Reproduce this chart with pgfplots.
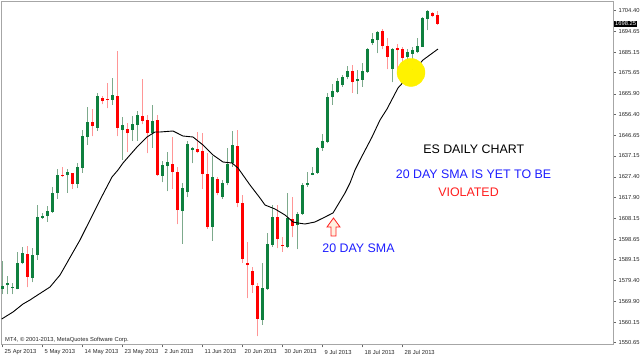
\documentclass[border=0pt]{standalone}
\usepackage{pgfplots}
\pgfplotsset{compat=1.18}
\usepackage{pgfplotstable}
\usepackage{fontspec}
\setmainfont{Liberation Sans}
\definecolor{cgreen}{RGB}{14,128,62}
\definecolor{wgreen}{RGB}{125,170,140}
\definecolor{cred}{RGB}{255,0,0}
\definecolor{wred}{RGB}{255,150,150}
\definecolor{tblue}{RGB}{30,30,255}
\definecolor{tred}{RGB}{255,30,30}

\pgfplotstableread{
i lo hi blo bhi
1 1573.20 1588.63 1575.66 1577.05
2 1573.20 1581.54 1577.37 1578.30
3 1573.20 1578.30 1575.98 1576.44
4 1575.38 1592.79 1575.51 1587.56
5 1587.09 1594.97 1587.56 1592.19
7 1578.76 1594.50 1580.61 1591.27
8 1588.95 1614.42 1591.27 1609.00
9 1607.94 1610.72 1608.63 1609.10
10 1606.55 1613.96 1609.33 1611.64
11 1610.72 1622.76 1611.18 1619.98
12 1617.20 1631.09 1619.98 1628.31
14 1619.98 1631.09 1628.31 1629.70
16 1622.29 1633.87 1624.15 1632.02
17 1629.24 1649.15 1631.55 1646.37
18 1642.21 1659.80 1645.91 1652.86
20 1648.69 1666.29 1650.08 1664.90
23 1660.73 1673.23 1663.05 1665.36
25 1635.26 1655.17 1649.15 1651.47
27 1644.06 1655.64 1649.15 1651.93
28 1644.06 1657.95 1651.47 1656.10
31 1640.82 1660.73 1647.62 1653.46
33 1625.07 1634.80 1627.85 1632.94
34 1620.90 1638.96 1632.48 1634.33
37 1596.36 1624.61 1611.64 1622.29
38 1618.12 1644.06 1620.44 1642.67
39 1633.87 1641.28 1639.89 1640.82
43 1597.75 1637.11 1604.23 1627.39
45 1617.20 1626.00 1618.12 1624.61
46 1623.68 1640.82 1624.61 1633.41
47 1632.02 1648.69 1633.87 1642.21
53 1558.85 1587.56 1561.16 1575.98
54 1575.06 1601.45 1575.51 1596.36
55 1594.97 1614.42 1595.90 1608.86
58 1594.50 1619.98 1594.97 1608.40
60 1594.04 1611.18 1605.16 1610.25
61 1609.79 1624.61 1610.25 1623.68
62 1622.76 1629.70 1623.68 1624.61
63 1628.31 1632.02 1628.54 1629.24
64 1628.78 1641.28 1629.24 1640.82
65 1639.43 1647.30 1640.82 1644.06
66 1643.13 1666.29 1643.60 1664.43
67 1660.73 1670.46 1664.43 1667.21
68 1666.29 1673.23 1666.75 1671.84
69 1669.07 1674.62 1669.99 1673.70
70 1672.77 1678.79 1673.70 1676.48
72 1665.82 1676.94 1671.84 1672.77
73 1669.07 1680.18 1672.31 1676.48
74 1675.55 1687.13 1676.01 1686.66
75 1688.52 1694.07 1689.44 1691.29
76 1684.81 1695.00 1690.83 1694.54
79 1671.38 1687.13 1677.40 1686.66
82 1680.18 1686.66 1682.96 1685.27
83 1676.94 1687.59 1684.35 1686.20
84 1684.81 1691.76 1685.27 1688.05
85 1687.59 1701.48 1687.59 1701.02
86 1695.46 1704.72 1700.56 1704.26
}\gtab

\pgfplotstableread{
i lo hi blo bhi
6 1576.44 1595.43 1581.08 1591.73
13 1627.39 1632.02 1627.85 1628.31
15 1621.83 1629.24 1624.15 1629.24
19 1646.37 1658.88 1651.00 1652.86
21 1661.19 1664.90 1662.58 1663.97
22 1659.34 1670.92 1663.28 1663.74
24 1646.37 1685.74 1650.08 1664.90
26 1638.96 1652.39 1647.76 1649.62
29 1651.93 1672.77 1653.32 1655.64
30 1638.50 1656.10 1647.76 1653.78
32 1627.85 1656.10 1628.31 1653.78
35 1621.83 1645.91 1629.70 1633.41
36 1605.62 1632.02 1612.10 1629.70
40 1638.50 1648.23 1638.96 1640.35
41 1621.83 1647.76 1628.78 1639.43
42 1603.31 1638.50 1604.23 1628.78
44 1619.05 1627.39 1619.98 1626.46
48 1613.49 1649.15 1615.35 1641.74
49 1587.56 1619.05 1589.41 1615.35
50 1571.35 1597.29 1586.63 1587.56
51 1573.67 1585.71 1577.37 1583.86
52 1553.75 1578.30 1561.63 1576.91
56 1594.50 1614.42 1598.67 1608.86
57 1592.66 1599.60 1595.43 1595.90
59 1599.60 1618.12 1604.70 1607.94
71 1666.29 1679.25 1671.38 1676.48
77 1686.66 1695.93 1688.05 1695.00
78 1677.40 1691.76 1682.96 1688.05
80 1675.55 1688.98 1686.20 1687.13
81 1680.18 1687.59 1682.50 1686.66
87 1701.48 1703.80 1701.95 1703.33
88 1697.78 1704.26 1698.25 1702.41
}\rtab

\pgfplotsset{candle/.style={only marks, mark=*, mark size=0pt, mark options={draw=none, fill=none},
  error bars/.cd, y dir=plus, y explicit, error mark=none}}

\begin{document}
\begin{tikzpicture}[x=1pt,y=1pt]
\path[use as bounding box] (0,0) rectangle (640,356);
\begin{axis}[
  scale only axis, width=611.3pt, height=342.6pt,
  at={(1.7pt,11.7pt)}, anchor=south west,
  xmin=0.8, xmax=123.06, ymin=1549.91, ymax=1708.57,
  clip=false,
  axis line style={gray!70, line width=0.8pt},
  tick style={black!60, line width=0.6pt},
  tick align=outside, major tick length=3pt,
  xtick pos=bottom, ytick pos=right, yticklabel pos=right,
  xtick={1,9,17,25,33,41,49,57,65,73,81},
  xticklabels={25 Apr 2013, 5 May 2013, 14 May 2013, 23 May 2013, 2 Jun 2013, 11 Jun 2013, 20 Jun 2013, 30 Jun 2013, 9 Jul 2013, 18 Jul 2013, 28 Jul 2013},
  xticklabel style={anchor=north west, xshift=-1.5pt, yshift=1pt, font=\fontsize{5.8}{6}\selectfont, text=black!85},
  ytick={1550.65,1560.15,1569.90,1579.40,1589.15,1598.65,1608.15,1617.90,1627.40,1637.15,1646.65,1656.40,1665.90,1675.65,1685.15,1694.65,1704.40},
  yticklabels={1550.65,1560.15,1569.90,1579.40,1589.15,1598.65,1608.15,1617.90,1627.40,1637.15,1646.65,1656.40,1665.90,1675.65,1685.15,1694.65,1704.40},
  yticklabel style={anchor=west, xshift=-1pt, font=\fontsize{5.8}{6}\selectfont, text=black!85},
]
% yellow highlight
\addplot[only marks, mark=*, mark size=14pt, color=yellow, mark options={fill=yellow, draw=none}] coordinates {(82.66,1675.80)};
% wicks
\addplot[candle, error bar style={line width=1pt, color=wgreen}]
  table[x=i, y=lo, y error expr=\thisrow{hi}-\thisrow{lo}] {\gtab};
\addplot[candle, error bar style={line width=1pt, color=wred}]
  table[x=i, y=lo, y error expr=\thisrow{hi}-\thisrow{lo}] {\rtab};
% bodies
\addplot[candle, error bar style={line width=3pt, color=cgreen}]
  table[x=i, y=blo, y error expr=\thisrow{bhi}-\thisrow{blo}] {\gtab};
\addplot[candle, error bar style={line width=3pt, color=cred}]
  table[x=i, y=blo, y error expr=\thisrow{bhi}-\thisrow{blo}] {\rtab};
% 20 day SMA
\addplot[black, line width=0.9pt, mark=none] coordinates {
(0.8,1561.63) (3.06,1564.87) (5.06,1568.57) (6.46,1570.43) (7.06,1571.35) (10.46,1576.44)
(12.46,1581.98) (16.46,1598.21) (18.46,1607.47) (20.46,1616.73) (22.86,1627.39) (24.06,1630.63)
(25.06,1633.87) (27.86,1641.28) (29.86,1645.91) (31.46,1648.23) (32.46,1648.23) (35.06,1648.69)
(37.06,1646.37) (39.06,1645.91) (41.06,1642.21) (43.06,1637.58) (45.06,1634.33) (46.86,1633.87)
(48.06,1631.55) (50.46,1623.68) (52.46,1617.66) (53.46,1614.42) (55.46,1612.57) (57.46,1609.79)
(59.06,1606.55) (60.06,1606.08) (61.46,1605.62) (63.46,1606.55) (65.46,1608.86) (67.06,1610.72)
(69.46,1619.98) (70.46,1624.61) (71.46,1630.63) (72.46,1635.26) (74.86,1645.91) (76.46,1653.78)
(77.86,1658.88) (80.06,1668.63) (82.06,1673.70) (85.06,1681.57) (88.06,1686.66)
};
% arrow
\draw[tred, line width=0.8pt, fill=orange!12, line join=miter]
  (axis cs:67.16,1608.40) -- (axis cs:68.46,1604.23) -- (axis cs:67.66,1604.23) -- (axis cs:67.66,1600.06)
  -- (axis cs:66.66,1600.06) -- (axis cs:66.66,1604.23) -- (axis cs:65.86,1604.23) -- cycle;
% texts
\node[font=\fontsize{12.4}{14}\selectfont, text=black] at (axis cs:95.2,1640.35) {ES DAILY CHART};
\node[font=\fontsize{12.4}{14}\selectfont, text=tblue] at (axis cs:95.16,1628.78) {20 DAY SMA IS YET TO BE};
\node[font=\fontsize{12.4}{14}\selectfont, text=tred] at (axis cs:94.16,1620.44) {VIOLATED};
\node[font=\fontsize{12.4}{14}\selectfont, text=tblue] at (axis cs:72.16,1594.50) {20 DAY SMA};
\node[font=\fontsize{5.8}{6}\selectfont, text=black!85, anchor=west, inner sep=0pt] at (axis cs:1.46,1551.90) {MT4, \textcopyright{} 2001-2013, MetaQuotes Software Corp.};
\node[font=\fontsize{5.8}{6}\selectfont, fill=black, text=white, anchor=west, inner sep=0.9pt, xshift=1pt] at (axis cs:123.06,1698.25) {1698.25};
\end{axis}
\end{tikzpicture}
\end{document}
